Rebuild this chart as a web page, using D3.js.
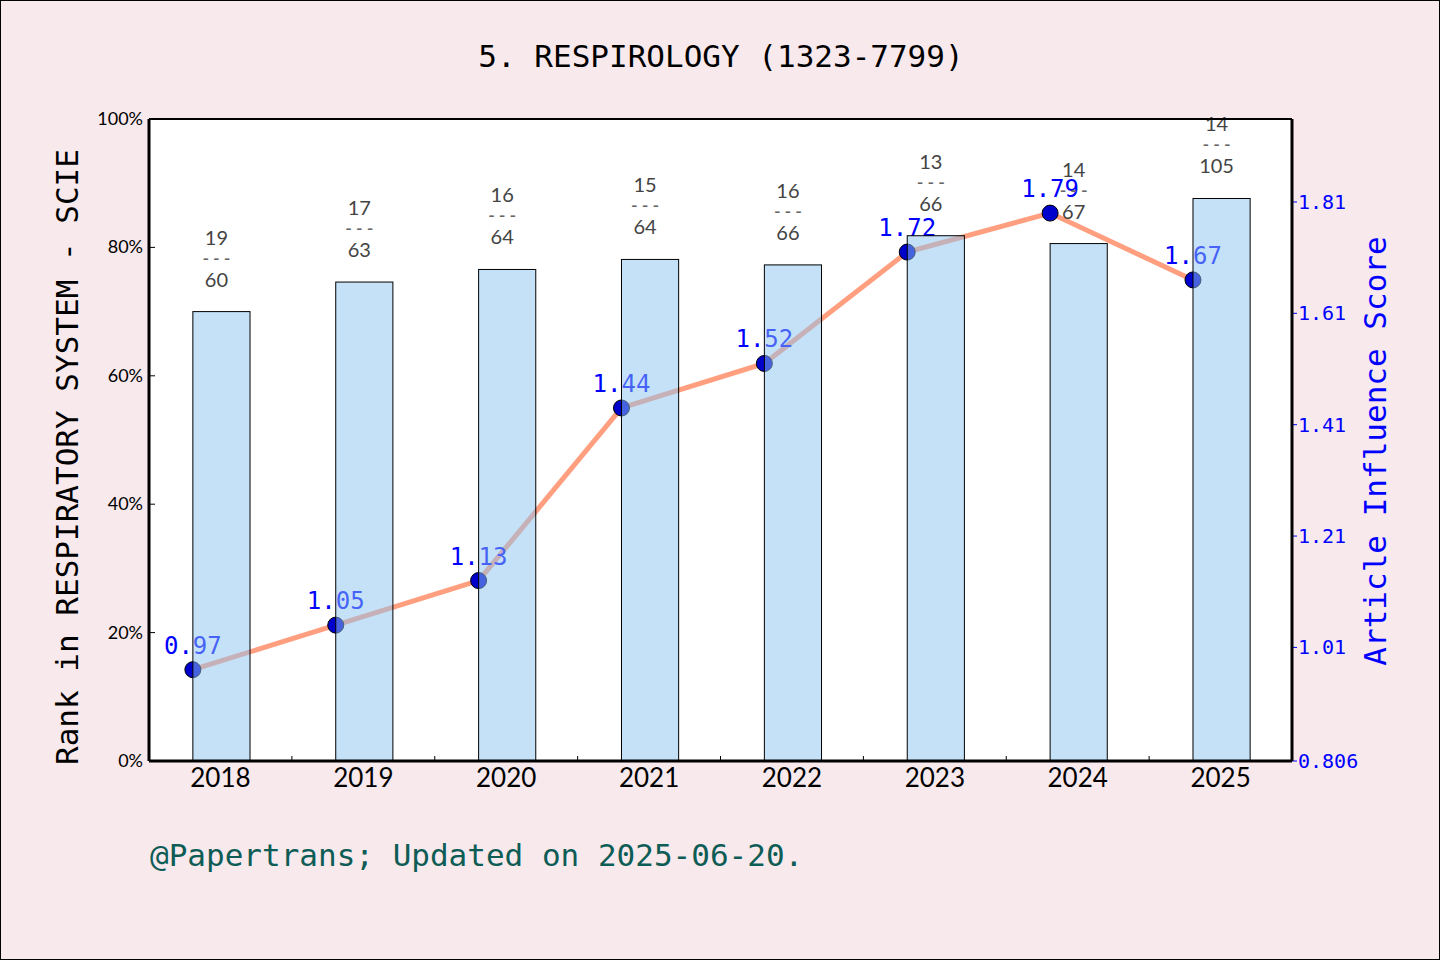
<!DOCTYPE html>
<html>
<head>
<meta charset="utf-8">
<script src="https://cdn.jsdelivr.net/npm/d3@7"></script>
<style>
  body { margin: 0; background: #f8e9ec; }
  svg { display: block; }
</style>
</head>
<body>
<div id="chart"></div>
<script>
// data
var years = ['2018', '2019', '2020', '2021', '2022', '2023', '2024', '2025'];
var ranks = [19, 17, 16, 15, 16, 13, 14, 14];
var totals = [60, 63, 64, 64, 66, 66, 67, 105];
var ais = [0.97, 1.05, 1.13, 1.44, 1.52, 1.72, 1.79, 1.67];
var pctTicks = [0, 0.2, 0.4, 0.6, 0.8, 1.0];
var aisTicks = [0.806, 1.01, 1.21, 1.41, 1.61, 1.81];
var aisLabels = ['0.806', '1.01', '1.21', '1.41', '1.61', '1.81'];

var W = 1440, H = 960;
var margin = { top: 119, right: 148, bottom: 199, left: 149 };
var w = W - margin.left - margin.right;
var h = H - margin.top - margin.bottom;
var mono = '"DejaVu Sans Mono", "Liberation Mono", monospace';
var sans = 'Lato, "DejaVu Sans", sans-serif';

var svg = d3.select('#chart').append('svg')
  .attr('width', W).attr('height', H);

svg.append('rect').attr('x', 0.5).attr('y', 0.5)
  .attr('width', W - 1).attr('height', H - 1)
  .attr('fill', '#f8e9ec').attr('stroke', '#000').attr('stroke-width', 1);

var g = svg.append('g').attr('transform', 'translate(' + margin.left + ',' + margin.top + ')');
g.append('rect').attr('width', w).attr('height', h).attr('fill', '#fff');

var x = d3.scaleBand().domain(years).range([0, w]).paddingInner(0.6).paddingOuter(0.3);
var y = d3.scaleLinear().domain([0, 1]).range([h, 0]);
var y2 = d3.scaleLinear().domain([0.806, 1.959]).range([h, 0]);

var pct = years.map(function (d, i) { return (totals[i] - ranks[i] + 1) / totals[i]; });

// line + points first, bars are drawn translucent over them
var px = function (d, i) { return x(years[i]) + 1; };
var line = d3.line().x(px).y(function (d) { return y2(d); });
g.append('path').datum(ais)
  .attr('d', line)
  .attr('fill', 'none')
  .attr('stroke', '#ff9f7f')
  .attr('stroke-width', 5);

g.selectAll('.pt').data(ais).enter().append('circle')
  .attr('cx', px).attr('cy', function (d) { return y2(d); })
  .attr('r', 8)
  .attr('fill', '#0000cc').attr('stroke', '#000').attr('stroke-width', 1);

g.selectAll('.ais').data(ais).enter().append('text')
  .attr('x', px).attr('y', function (d) { return y2(d) - 16; })
  .attr('text-anchor', 'middle')
  .attr('font-family', mono).attr('font-size', 24)
  .attr('fill', '#0000ff')
  .text(function (d) { return d.toFixed(2); });

g.selectAll('.bar').data(pct).enter().append('rect')
  .attr('x', function (d, i) { return x(years[i]) + 1; })
  .attr('y', function (d) { return y(d); })
  .attr('width', x.bandwidth())
  .attr('height', function (d) { return h - y(d); })
  .attr('fill', 'rgba(140,195,240,0.5)')
  .attr('stroke', '#000').attr('stroke-width', 1);

// rank / total labels above bars
var lab = g.selectAll('.lab').data(pct).enter().append('g')
  .attr('transform', function (d, i) {
    return 'translate(' + (x(years[i]) + x.bandwidth() / 2 - 4) + ',' + (y(d) - 53) + ')';
  })
  .attr('font-family', sans).attr('font-size', 20).attr('fill', '#444')
  .attr('text-anchor', 'middle');
lab.append('text').attr('y', -14).text(function (d, i) { return ranks[i]; });
lab.append('text').attr('x', -16).attr('y', 6)
  .attr('text-anchor', 'start')
  .attr('font-family', mono).attr('font-size', 20).attr('fill', '#666')
  .attr('textLength', 32).attr('lengthAdjust', 'spacingAndGlyphs')
  .text('---');
lab.append('text').attr('y', 28).text(function (d, i) { return totals[i]; });

// axes
var xAxis = g.append('g').attr('transform', 'translate(0,' + h + ')');
var step = x.step();
xAxis.selectAll('.xt').data(d3.range(1, years.length)).enter().append('line')
  .attr('x1', function (d) { return d * step; }).attr('x2', function (d) { return d * step; })
  .attr('y1', 0).attr('y2', -5).attr('stroke', '#000');
xAxis.selectAll('.xl').data(years).enter().append('text')
  .attr('x', function (d) { return x(d) + x.bandwidth() / 2; })
  .attr('y', 26)
  .attr('text-anchor', 'middle')
  .attr('font-family', sans).attr('font-size', 26).attr('fill', '#000')
  .text(function (d) { return d; });

var yAxis = g.append('g');
yAxis.selectAll('.yt').data(pctTicks).enter().append('line')
  .attr('x1', 0).attr('x2', 6)
  .attr('y1', function (d) { return y(d); }).attr('y2', function (d) { return y(d); })
  .attr('stroke', '#000');
yAxis.selectAll('.yl').data(pctTicks).enter().append('text')
  .attr('x', -6).attr('y', function (d) { return y(d) + 6; })
  .attr('text-anchor', 'end')
  .attr('font-family', sans).attr('font-size', 18).attr('fill', '#000')
  .text(function (d) { return Math.round(d * 100) + '%'; });

var y2Axis = g.append('g').attr('transform', 'translate(' + w + ',0)');
y2Axis.selectAll('.rt').data(aisTicks).enter().append('line')
  .attr('x1', 0).attr('x2', 5)
  .attr('y1', function (d) { return y2(d); }).attr('y2', function (d) { return y2(d); })
  .attr('stroke', '#0000ff');
y2Axis.selectAll('.rl').data(aisTicks).enter().append('text')
  .attr('x', 6).attr('y', function (d) { return y2(d) + 7; })
  .attr('font-family', mono).attr('font-size', 20).attr('fill', '#0000ff')
  .text(function (d, i) { return aisLabels[i]; });

// frame
g.append('line').attr('x1', 0).attr('x2', w).attr('y1', 0).attr('y2', 0).attr('stroke', '#000').attr('stroke-width', 2);
g.append('line').attr('x1', 0).attr('x2', w).attr('y1', h).attr('y2', h).attr('stroke', '#000').attr('stroke-width', 3);
g.append('line').attr('x1', 0).attr('x2', 0).attr('y1', 0).attr('y2', h).attr('stroke', '#000').attr('stroke-width', 3);
g.append('line').attr('x1', w).attr('x2', w).attr('y1', 0).attr('y2', h).attr('stroke', '#000').attr('stroke-width', 3);

// titles
svg.append('text').attr('x', 721).attr('y', 67)
  .attr('text-anchor', 'middle')
  .attr('font-family', mono).attr('font-size', 31).attr('fill', '#000')
  .text('5. RESPIROLOGY (1323-7799)');

svg.append('text')
  .attr('transform', 'translate(78,457) rotate(-90)')
  .attr('text-anchor', 'middle')
  .attr('font-family', mono).attr('font-size', 31).attr('fill', '#000')
  .text('Rank in RESPIRATORY SYSTEM - SCIE');

svg.append('text')
  .attr('transform', 'translate(1386,451) rotate(-90)')
  .attr('text-anchor', 'middle')
  .attr('font-family', mono).attr('font-size', 31).attr('fill', '#0000ff')
  .text('Article Influence Score');

svg.append('text').attr('x', 150).attr('y', 866)
  .attr('font-family', mono).attr('font-size', 31).attr('fill', '#0d5c55')
  .text('@Papertrans; Updated on 2025-06-20.');
</script>
</body>
</html>
